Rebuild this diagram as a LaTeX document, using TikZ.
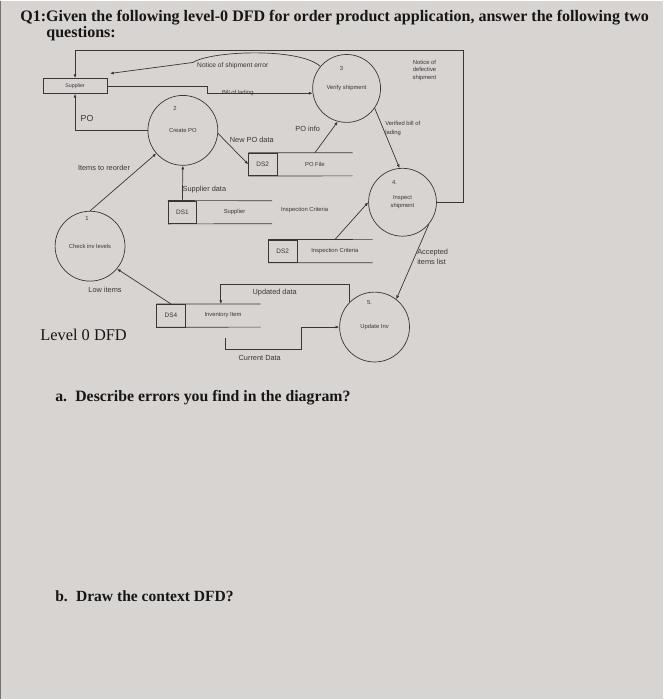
\documentclass[tikz,border=0pt]{standalone}
\usepackage{fontspec}
\setmainfont{Liberation Serif}
\newfontfamily\dfdfont{Liberation Sans}
\usetikzlibrary{arrows.meta,positioning,calc}

\definecolor{paper}{RGB}{216,212,210}
\definecolor{ink}{RGB}{55,55,55}
\definecolor{qink}{RGB}{22,22,22}

\tikzset{
  flow/.style={draw=ink, line width=0.6pt, -{Latex[length=3.2pt,width=2.6pt]}},
  line/.style={draw=ink, line width=0.6pt},
  proc/.style={circle, draw=ink, line width=0.6pt, minimum size=2.1cm, inner sep=0pt,
    font=\dfdfont\fontsize{5}{7}\selectfont, text=ink, align=center},
  entity/.style={rectangle, draw=ink, line width=0.6pt, minimum width=1.92cm,
    minimum height=0.45cm, inner sep=0pt, font=\dfdfont\fontsize{4.5}{5}\selectfont, text=ink},
  storeid/.style={rectangle, draw=ink, line width=0.6pt, minimum width=0.85cm,
    minimum height=0.68cm, inner sep=0pt, font=\dfdfont\fontsize{5.5}{6}\selectfont, text=ink},
  storename/.style={rectangle, minimum width=2.25cm, minimum height=0.68cm, inner sep=0pt,
    font=\dfdfont\fontsize{5}{6}\selectfont, text=ink},
  lbl/.style={font=\dfdfont\fontsize{6.3}{8.5}\selectfont, text=ink, inner sep=0.5pt, align=left},
  sml/.style={font=\dfdfont\fontsize{5}{7.5}\selectfont, text=ink, inner sep=0.5pt, align=left},
  question/.style={anchor=west, inner sep=0pt, text=qink, font=\bfseries\fontsize{13.7}{15}\selectfont},
}

\begin{document}
\begin{tikzpicture}[x=0.03cm, y=-0.03cm]
% paper
\fill[paper] (0,0) rectangle (664,700);
\draw[black!55, line width=1pt] (0.4,0) -- (0.4,700);

% question text
\node[question] (qline1) at (20,17) {Q1:Given the following level-0 DFD for order product application, answer the following two};
\node[question] (qline2) at (46,33) {questions:};

% external entity and processes
\node[entity] (supplier) at (75,85.5) {Supplier};
\node[proc] (p1) at (90,246) {Check inv levels};
\node[proc] (p2) at (183,130) {Create PO};
\node[proc, minimum size=2.04cm] (p3) at (347,88) {Verify shipment};
\node[proc, minimum size=2.04cm] (p4) at (403,202) {Inspect\\shipment};
\node[proc] (p5) at (375,327) {Update Inv};

\node[sml] (p1num) at ($(p1)+(-3,-28)$) {1};
\node[sml] (p2num) at ($(p2)+(-8,-22)$) {2};
\node[sml] (p3num) at ($(p3)+(-5,-20)$) {3};
\node[sml] (p4num) at ($(p4)+(-8,-20)$) {4.};
\node[sml] (p5num) at ($(p5)+(-5,-25)$) {5.};

% data stores
\node[storeid] (ds2-id) at (263,164) {DS2};
\node[storename, right=0pt of ds2-id] (ds2-name) {PO File};
\node[storeid] (ds1-id) at (182.5,212) {DS1};
\node[storename, right=0pt of ds1-id] (ds1-name) {Supplier};
\node[storeid] (ds2b-id) at (283,251) {DS2};
\node[storename, right=0pt of ds2b-id] (ds2b-name) {Inspection Criteria};
\node[storeid] (ds4-id) at (171,315.5) {DS4};
\node[storename, right=0pt of ds4-id] (ds4-name) {Inventory Item};
\foreach \s in {ds1,ds2,ds2b,ds4} {
  \draw[line] (\s-id.north west) -- (\s-name.north east);
  \draw[line] (\s-id.south west) -- (\s-name.south east);
}

% bends and loose ends
\coordinate (ne) at (464,50);
\coordinate (nse) at (110,73);
\coordinate (bl) at (208,89);
\coordinate (upd) at (221,284);
\coordinate (cd0) at (226,338);
\coordinate (cd1) at (302,349);

% flows
\draw[flow] (p4.east) -| (ne) -| (supplier.north);
\draw[flow] (p3.140) .. controls (300,47) and (212,50) .. (193,62) -- (nse);
\draw[flow] (supplier.east) -| (bl) |- (p3.188);
\draw[flow] (p2.west) -| (supplier.south);
\draw[flow] (p2.-5) -- (ds2-id.west);
\draw[flow] (ds2-name.north) -- (p3.255);
\draw[flow] (p3.-35) -- (p4.95);
\draw[flow] (p4.-40) -- (p5.52);
\draw[flow] (ds2b-name.north) -- (p4.west);
\draw[flow] (ds1-id.north) -- (p2.south);
\draw[flow] (p1.north) -- (p2.221);
\draw[flow] (ds4-id.north) -- (p1.-40);
\draw[flow] (p5.135) |- (upd) -- (upd |- ds4-name.north);
\draw[flow] (cd0) |- (cd1) |- (p5.west);

% flow labels
\node[sml, font=\dfdfont\fontsize{5.7}{7}\selectfont] (l-nse) at (233,65) {Notice of shipment error};
\node[sml] (l-bill) at (238,93) {Bill of lading};
\node[sml, align=center] (l-def) at (425,70) {Notice of\\[-1pt]defective\\[-1pt]shipment};
\node[lbl, font=\dfdfont\fontsize{7.5}{8}\selectfont] (l-po) at (87,118) {PO};
\node[lbl] (l-newpo) at (252,140) {New PO data};
\node[lbl] (l-poinfo) at (308,128) {PO info};
\node[sml, anchor=west] (l-vbl) at (385,128) {Verified bill of\\lading};
\node[lbl] (l-reorder) at (104,168) {Items to reorder};
\node[lbl, anchor=west] (l-supdata) at (182,189) {Supplier data};
\node[sml] (l-insp) at (305,210) {Inspection Criteria};
\node[lbl, anchor=west] (l-acc) at (417,257) {Accepted\\items list};
\node[lbl] (l-low) at (105,290) {Low items};
\node[lbl] (l-upd) at (275,292) {Updated data};
\node[lbl] (l-cur) at (260,358) {Current Data};

\node[anchor=west, inner sep=0pt, text=qink, font=\fontsize{14}{16}\selectfont] (level) at (40,335) {Level 0 DFD};

% questions a and b
\node[question, font=\bfseries\fontsize{13.5}{15}\selectfont] (qa) at (55,398) {a.\hspace{7pt}Describe errors you find in the diagram?};
\node[question, font=\bfseries\fontsize{13.3}{15}\selectfont] (qb) at (55,597) {b.\hspace{7pt}Draw the context DFD?};
\end{tikzpicture}
\end{document}
